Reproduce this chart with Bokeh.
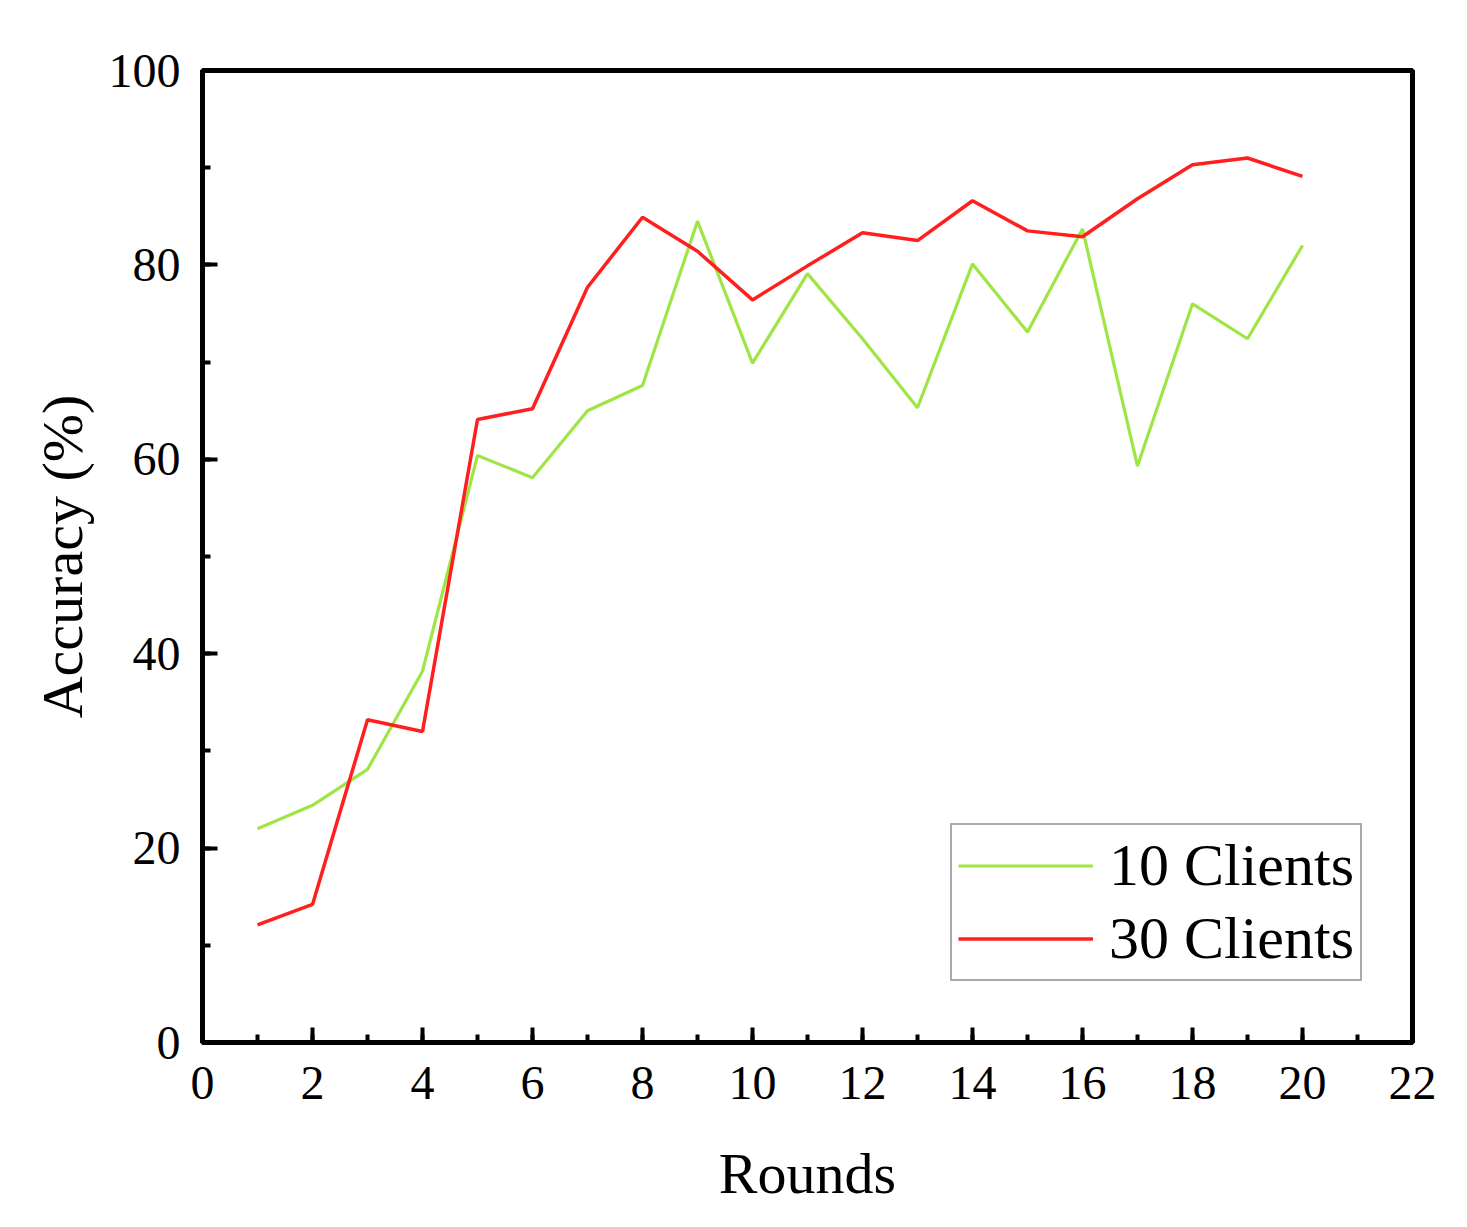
from bokeh.plotting import figure
from bokeh.models import Range1d, SingleIntervalTicker, Legend, LegendItem
from bokeh.embed import file_html
from bokeh.resources import INLINE

rounds = list(range(1, 21))
acc_10 = [22.0, 24.4, 28.1, 38.2, 60.4, 58.1, 65.0, 67.6, 84.5, 69.9,
          79.1, 72.4, 65.3, 80.1, 73.1, 83.7, 59.3, 76.0, 72.4, 82.0]
acc_30 = [12.1, 14.2, 33.2, 32.0, 64.1, 65.2, 77.7, 84.9, 81.4, 76.4,
          79.9, 83.3, 82.5, 86.6, 83.5, 82.9, 86.8, 90.3, 91.0, 89.1]
series_names = ["10 Clients", "30 Clients"]
series_colors = ["#9fe545", "#ff1f1f"]
x_label = "Rounds"
y_label = "Accuracy (%)"

FONT = "Liberation Serif"

W, H = 1448, 1213
p = figure(width=W, height=H, output_backend="svg", toolbar_location=None,
           x_range=Range1d(0, 22), y_range=Range1d(0, 100),
           min_border_left=202, min_border_top=70,
           min_border_right=W - 1412, min_border_bottom=H - 1042)
p.background_fill_color = "white"
p.border_fill_color = "white"
p.outline_line_color = "black"
p.outline_line_width = 5
p.xgrid.visible = False
p.ygrid.visible = False

p.xaxis.ticker = SingleIntervalTicker(interval=2, num_minor_ticks=2)
p.yaxis.ticker = SingleIntervalTicker(interval=20, num_minor_ticks=2)

for ax in (p.xaxis[0], p.yaxis[0]):
    ax.axis_line_width = 5
    ax.axis_line_color = "black"
    ax.major_tick_in = 15
    ax.major_tick_out = 0
    ax.minor_tick_in = 8
    ax.minor_tick_out = 0
    ax.major_tick_line_width = 4
    ax.minor_tick_line_width = 4
    ax.major_tick_line_color = "black"
    ax.minor_tick_line_color = "black"
    ax.major_label_text_font = FONT
    ax.major_label_text_font_size = "48px"
    ax.major_label_text_color = "black"
    ax.axis_label_text_font = FONT
    ax.axis_label_text_font_size = "58px"
    ax.axis_label_text_font_style = "normal"
    ax.axis_label_text_color = "black"

p.xaxis.axis_label = x_label
p.yaxis.axis_label = y_label
p.xaxis.major_label_standoff = 24
p.xaxis.axis_label_standoff = 39
p.yaxis.major_label_standoff = 22
p.yaxis.axis_label_standoff = 11

r1 = p.line(rounds, acc_10, line_color=series_colors[0], line_width=3.2)
r2 = p.line(rounds, acc_30, line_color=series_colors[1], line_width=3.5)

legend = Legend(items=[LegendItem(label=series_names[0], renderers=[r1]),
                       LegendItem(label=series_names[1], renderers=[r2])],
                location=(748, 61))
legend.label_text_font = FONT
legend.label_text_font_size = "60px"
legend.label_text_color = "black"
legend.glyph_width = 135
legend.glyph_height = 69
legend.label_height = 69
legend.label_standoff = 16
legend.spacing = 4
legend.padding = 6
legend.margin = 0
legend.border_line_color = "#555555"
legend.border_line_width = 2
legend.background_fill_alpha = 1
legend.background_fill_color = "white"
p.add_layout(legend)

open("out.html", "w").write(file_html(p, INLINE))
